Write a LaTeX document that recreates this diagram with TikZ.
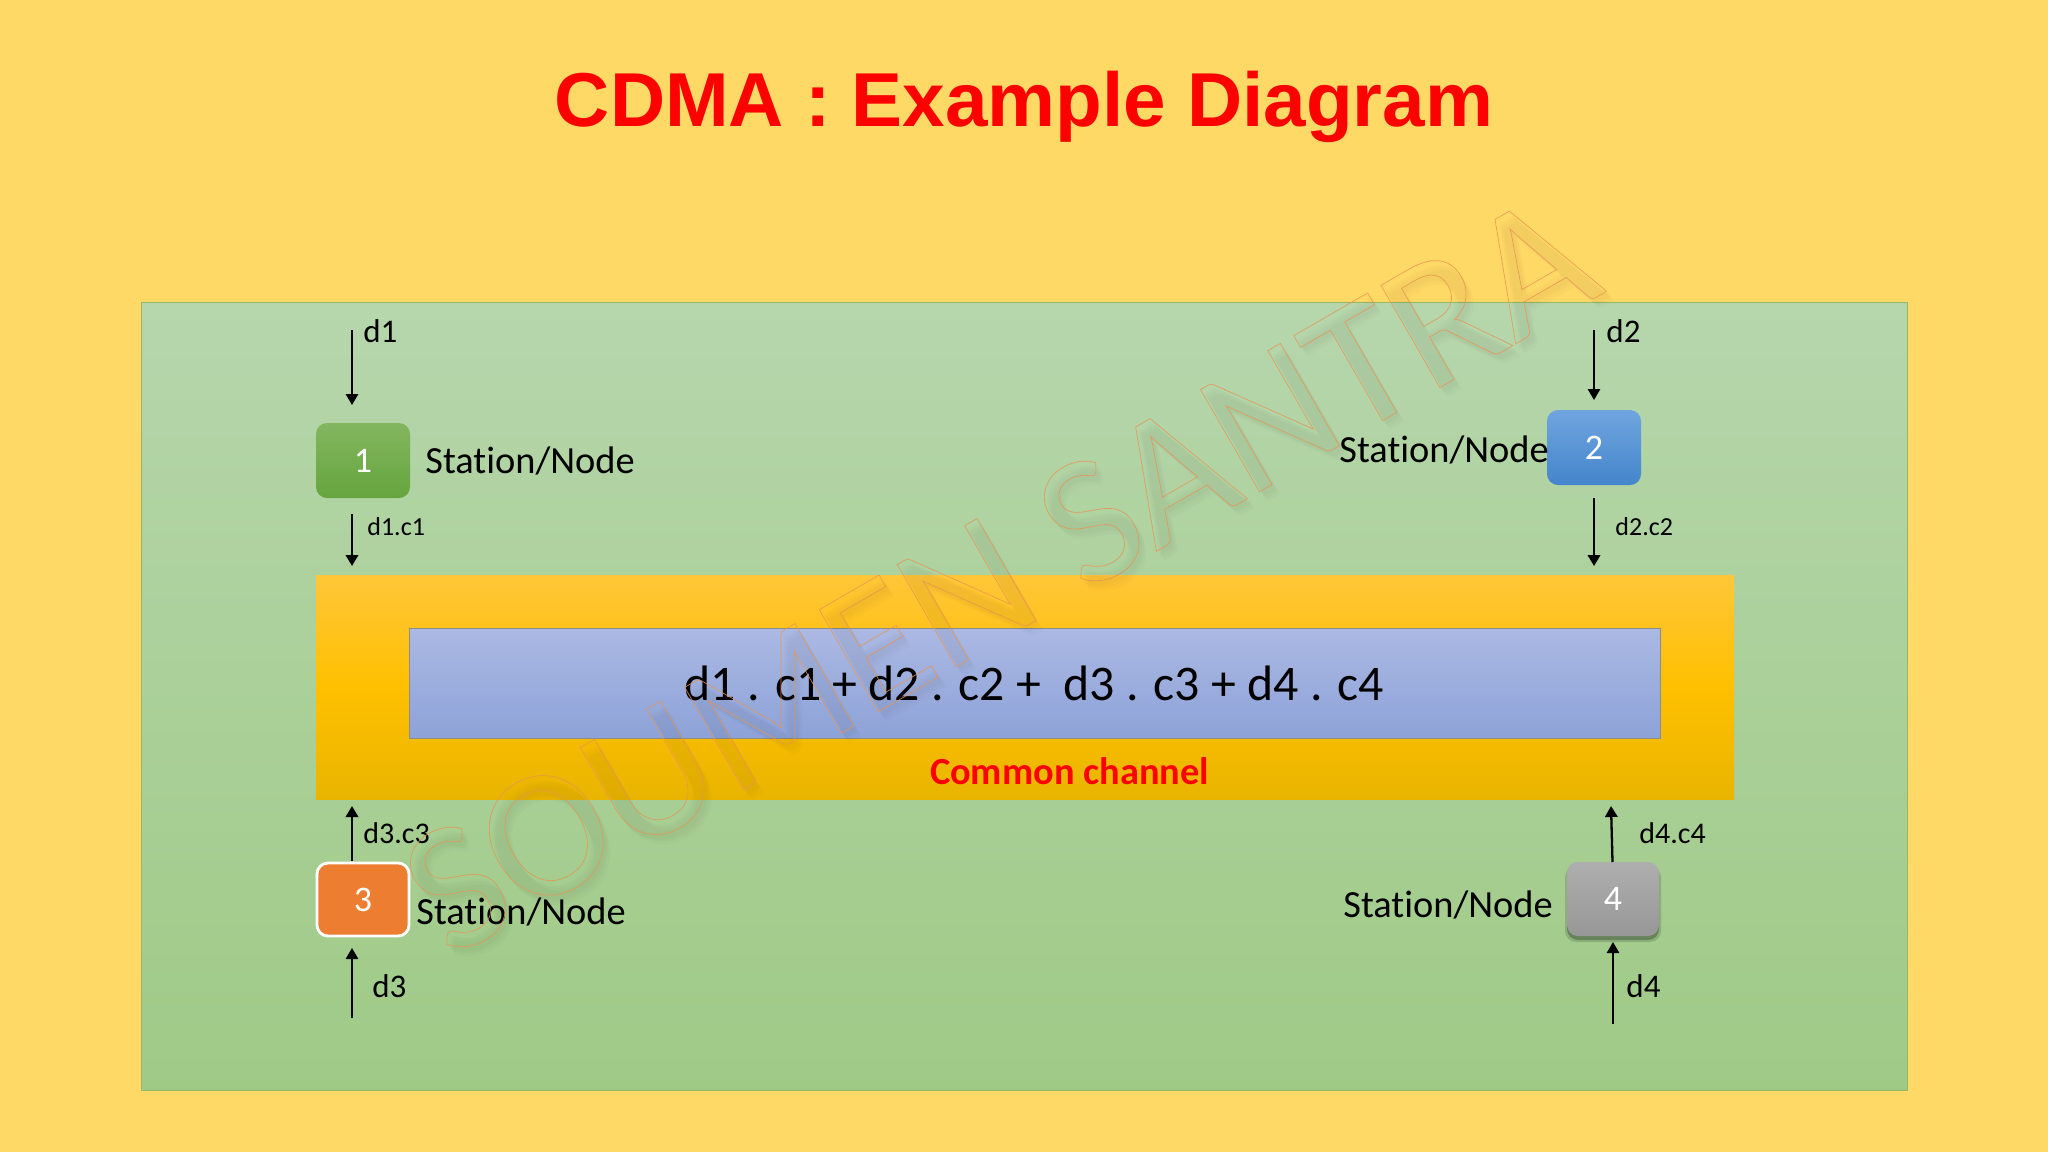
\documentclass[tikz,border=0pt]{standalone}
\usepackage{fontspec}
\setmainfont[Ligatures=NoCommon]{Carlito}
\newfontfamily\titlefont{Liberation Sans}
\usetikzlibrary{arrows.meta}
\definecolor{pagebg}{HTML}{FFD966}
\definecolor{panelT}{HTML}{B6D6AC}
\definecolor{panelB}{HTML}{9FCA86}
\definecolor{chanT}{HTML}{FFC639}
\definecolor{chanM}{HTML}{FFC000}
\definecolor{chanB}{HTML}{E9B500}
\definecolor{barT}{HTML}{ABB9E3}
\definecolor{barB}{HTML}{8DA2D8}
\definecolor{nOneT}{HTML}{82B65F}
\definecolor{nOneB}{HTML}{66A53E}
\definecolor{nTwoT}{HTML}{6FA5DE}
\definecolor{nTwoB}{HTML}{4585CC}
\definecolor{nFourT}{HTML}{AEAEAE}
\definecolor{nFourB}{HTML}{979797}
\definecolor{nThree}{HTML}{ED7D31}
\tikzset{
  x=0.5pt,y=-0.5pt,
  thinarrow/.style={-{Triangle[length=5.5pt,width=6.2pt]},line width=0.75pt,black},
  thickarrow/.style={-{Triangle[length=5.5pt,width=6.2pt]},line width=1.15pt,black},
  stationbox/.style={rounded corners=5.5pt,inner sep=0pt,minimum width=47pt,minimum height=37.5pt,font=\fontsize{18}{20}\selectfont,text=white},
  lbl/.style={inner sep=0pt,anchor=base west,font=\fontsize{16.5}{20}\selectfont},
  smalllbl/.style={inner sep=0pt,anchor=base west,font=\fontsize{13}{16}\selectfont},
  midlbl/.style={inner sep=0pt,anchor=base west,font=\fontsize{15}{18}\selectfont},
  stationlbl/.style={inner sep=0pt,anchor=base west,font=\fontsize{19.2}{22}\selectfont},
  wmtext/.style={inner sep=0pt,rotate=30,font=\fontsize{92}{100}\selectfont},
  wmsoft/.style={wmtext,text=black,opacity=0.016},
}
\newcommand{\wmoutline}[1]{\special{pdf:code q 1 Tr 0.35 w 0.91 0.58 0.32 RG}#1\special{pdf:code Q}}
\begin{document}
\begin{tikzpicture}
\useasboundingbox (0,0) rectangle (2048,1152);
\fill[pagebg] (0,0) rectangle (2048,1152);
% panel
\shade[top color=panelT,bottom color=panelB] (141,302) rectangle (1907,1090);
\draw[draw=panelB!75!olive,line width=0.5pt] (141,302) rectangle (1907,1090);
\node[inner sep=0pt,text=red,font=\titlefont\bfseries\fontsize{38.2}{46}\selectfont] (title) at (1024,107) {CDMA : Example Diagram};
% channel
\shade[top color=chanT,bottom color=chanM] (316,575) rectangle (1734,687);
\shade[top color=chanM,bottom color=chanB] (316,686.5) rectangle (1734,799);
\node[draw=black!45,line width=0.4pt,top color=barT,bottom color=barB,minimum width=625.5pt,minimum height=55pt,inner sep=0pt,font=\fontsize{24.9}{28}\selectfont] (bar) at (1034.5,683.5) {\raisebox{-1.4pt}{d1 . c1 + d2 . c2 + \ d3 . c3 + d4 . c4}};
\node[inner sep=0pt,text=red,font=\bfseries\fontsize{19.2}{22}\selectfont] (chan) at (1069.5,771) {Common channel};
% stations
\node[stationbox,top color=nOneT,bottom color=nOneB] (n1) at (363,460.5) {1};
\node[stationbox,top color=nTwoT,bottom color=nTwoB] (n2) at (1594,447.5) {2};
\node[stationbox,fill=nThree,draw=white,line width=1.4pt,minimum width=46pt,minimum height=36.5pt] (n3) at (363,899.5) {3};
\fill[black,opacity=0.14,rounded corners=5.5pt] (1565,866) rectangle (1661,942);
\fill[black,opacity=0.25,rounded corners=5.5pt] (1567,866) rectangle (1659,940);
\node[stationbox,top color=nFourT,bottom color=nFourB,minimum width=46pt,minimum height=37pt] (n4) at (1613,899) {4};
% labels
\node[stationlbl] (s1) at (425,473) {Station/Node};
\node[stationlbl] (s2) at (1339,462) {Station/Node};
\node[stationlbl] (s3) at (416,924) {Station/Node};
\node[stationlbl] (s4) at (1343,917) {Station/Node};
\node[lbl] (d1) at (363,342) {d1};
\node[lbl] (d2) at (1606,342) {d2};
\node[lbl] (d3) at (372,997) {d3};
\node[lbl] (d4) at (1626,997) {d4};
\node[smalllbl] (dc1) at (367,535) {d1.c1};
\node[smalllbl] (dc2) at (1615,535) {d2.c2};
\node[midlbl] (dc3) at (363,843) {d3.c3};
\node[midlbl] (dc4) at (1639,843) {d4.c4};
% connector ends
\coordinate (a1s) at (352,330); \coordinate (a1e) at (352,405);
\coordinate (a2s) at (1594,330); \coordinate (a2e) at (1594,400);
\coordinate (b1s) at (352,514); \coordinate (b1e) at (352,566);
\coordinate (b2s) at (1594,498); \coordinate (b2e) at (1594,566);
\coordinate (b3s) at (352,861); \coordinate (b3e) at (352,806);
\coordinate (b4s) at (1612.5,862); \coordinate (b4e) at (1611,806);
\coordinate (a3s) at (352,1018); \coordinate (a3e) at (352,948);
\coordinate (a4s) at (1613,1024); \coordinate (a4e) at (1613,942);
\draw[thinarrow] (a1s) -- (a1e);
\draw[thinarrow] (a2s) -- (a2e);
\draw[thinarrow] (a3s) -- (a3e);
\draw[thinarrow] (a4s) -- (a4e);
\draw[thickarrow] (b1s) -- (b1e);
\draw[thickarrow] (b2s) -- (b2e);
\draw[thickarrow] (b3s) -- (b3e);
\draw[thickarrow] (b4s) -- (b4e);
% watermark
\node[wmsoft] (wmsa) at (1003,579) {SOUMEN SANTRA};
\node[wmsoft] (wmsb) at (1005,581) {SOUMEN SANTRA};
\node[wmsoft] (wmsc) at (1007,584) {SOUMEN SANTRA};
\node[wmtext,opacity=0.85] (wm) at (999,574) {\wmoutline{SOUMEN SANTRA}};
\end{tikzpicture}
\end{document}
